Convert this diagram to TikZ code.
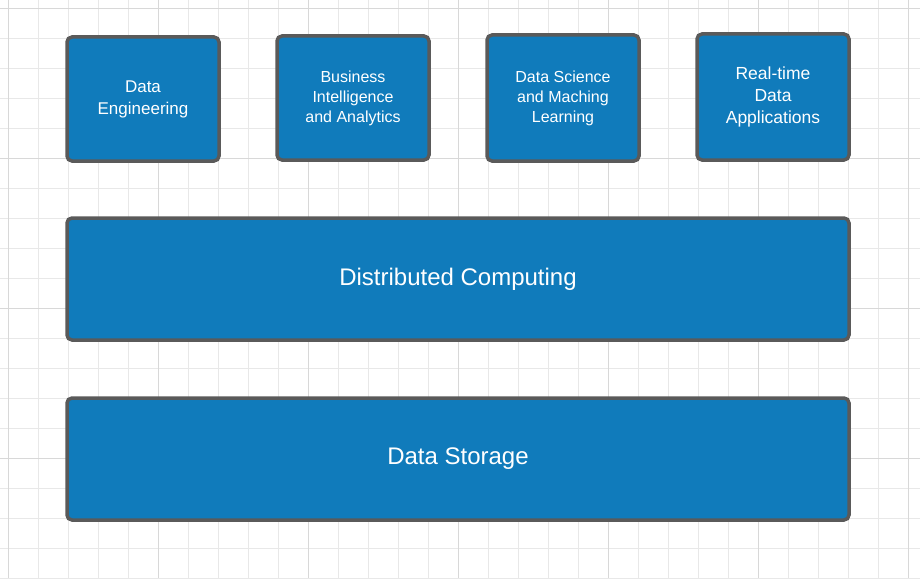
\documentclass[tikz,border=0pt]{standalone}
\usepackage{fontspec}
\setmainfont{Liberation Sans}
\definecolor{boxblue}{HTML}{107BBB}
\definecolor{boxedge}{HTML}{5A5A5A}
\definecolor{gridc}{HTML}{E8E8E8}
\definecolor{gridd}{HTML}{D8D8D8}
\begin{document}
\begin{tikzpicture}[x=1pt,y=-1pt,
  box/.style={draw=boxedge,line width=3.5pt,fill=boxblue,rounded corners=5pt,text=white,align=center,inner sep=0pt}]
\useasboundingbox (0,0) rectangle (920,578);
\fill[white] (0,0) rectangle (920,578);
\foreach \i in {0,...,30}{
  \draw[gridc,line width=0.8pt] (8+30*\i,0) -- (8+30*\i,578);}
\foreach \j in {0,...,19}{
  \draw[gridc,line width=0.8pt] (0,8+30*\j) -- (920,8+30*\j);}
\foreach \i in {0,...,6}{
  \draw[gridd,line width=0.8pt] (8+150*\i,0) -- (8+150*\i,578);}
\foreach \j in {0,...,3}{
  \draw[gridd,line width=0.8pt] (0,8+150*\j) -- (920,8+150*\j);}
\node[box,minimum width=152pt,minimum height=124pt,font=\fontsize{17}{22}\selectfont] (de) at (143,99) {Data\\Engineering};
\node[box,minimum width=152pt,minimum height=124pt,font=\fontsize{16}{20}\selectfont] (bi) at (353,98) {Business\\Intelligence\\and Analytics};
\node[box,minimum width=152pt,minimum height=126pt,font=\fontsize{16}{20}\selectfont] (ds) at (563,98) {Data Science\\and Maching\\Learning};
\node[box,minimum width=152pt,minimum height=126pt,font=\fontsize{17.5}{22}\selectfont] (rt) at (773,97) {Real-time\\Data\\Applications};
\node[box,minimum width=782pt,minimum height=122pt,font=\fontsize{24}{28}\selectfont] (dc) at (458,279) {Distributed Computing};
\node[box,minimum width=782pt,minimum height=122pt,font=\fontsize{24}{28}\selectfont] (st) at (458,459) {Data Storage};
\end{tikzpicture}
\end{document}
